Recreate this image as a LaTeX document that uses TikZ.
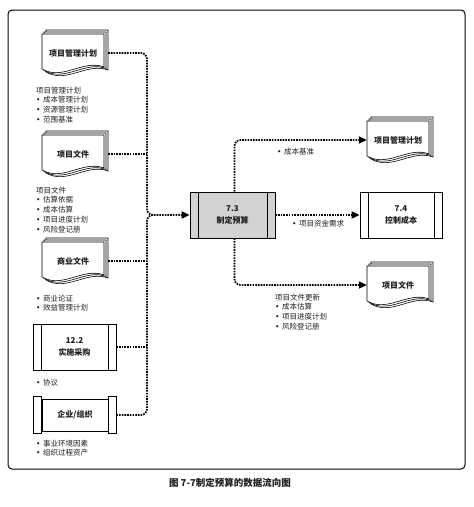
\documentclass[tikz,border=0pt]{standalone}
\usepackage{fontspec}
\setmainfont{Noto Sans CJK SC}
\newfontfamily\bulletfont{DejaVu Sans}
\newcommand\bul{{\bulletfont •}\hspace{2.5pt}}
\usetikzlibrary{arrows.meta}
\definecolor{procgray}{RGB}{210,210,210}
\definecolor{txt}{RGB}{30,30,30}
\tikzset{
  flow/.style={line width=1.7pt, dash pattern=on 1.6pt off 1.1pt, rounded corners=6pt},
  tipped/.style={-{Triangle[length=8pt,width=7pt]}},
  lbl/.style={font=\fontsize{8}{12}\selectfont\bfseries, align=center, text=txt},
  lst/.style={font=\fontsize{7.5}{9.8}\selectfont, align=left, anchor=north west, inner sep=0pt, text=txt},
  sheet/.style={draw, line width=0.6pt, fill=white},
  sidelines/.style={path picture={
      \draw[line width=0.6pt] ([xshift=8pt]path picture bounding box.north west) -- ([xshift=8pt]path picture bounding box.south west);
      \draw[line width=0.6pt] ([xshift=-8pt]path picture bounding box.north east) -- ([xshift=-8pt]path picture bounding box.south east);}},
  procbox/.style={lbl, draw, line width=0.7pt, fill=white, inner sep=0pt, sidelines},
}
\newcommand\docstack[4]{%
  \begin{scope}[shift={(#2,#3)}]
    \foreach \k in {2,1,0}{
      \draw[sheet] ({-31+2*\k},{-19-2*\k}) -- ({31+2*\k},{-19-2*\k}) -- ({31+2*\k},{14+1.5*\k})
        .. controls ({10+2*\k},{6+1.5*\k}) and ({-10+2*\k},{28+1.5*\k}) .. ({-31+2*\k},{16+1.5*\k}) -- cycle;
    }
  \end{scope}
  \node[lbl, minimum width=62pt, inner sep=0pt] (#1) at (#2,#3) {#4};
}
\begin{document}
\begin{tikzpicture}[x=1pt, y=-1pt]
  \useasboundingbox (0,0) rectangle (474,507);
  \draw[line width=1pt, rounded corners=4pt] (8,10) rectangle (465,469);

  % left inputs
  \docstack{d1}{73}{53}{项目管理计划}
  \docstack{d2}{73}{154}{项目文件}
  \docstack{d3}{73}{261}{商业文件}
  \node[procbox, minimum width=83pt, minimum height=46pt] (p122) at (74.5,347) {12.2\\实施采购};
  \node[procbox, minimum width=82pt, minimum height=32pt] (org) at (75,415) {企业/组织};
  \draw[line width=0.7pt, fill=white] ([yshift=2pt]org.north west) rectangle ([xshift=8pt,yshift=-2pt]org.south west);
  \draw[line width=0.7pt, fill=white] ([yshift=2pt]org.north east) rectangle ([xshift=-8pt,yshift=-2pt]org.south east);

  \node[lst] (l1) at (36,86.5) {项目管理计划\\\bul 成本管理计划\\\bul 资源管理计划\\\bul 范围基准};
  \node[lst] (l2) at (36,186.5) {项目文件\\\bul 估算依据\\\bul 成本估算\\\bul 项目进度计划\\\bul 风险登记册};
  \node[lst] (l3) at (36,294.5) {\bul 商业论证\\\bul 效益管理计划};
  \node[lst] (l4) at (36,378.5) {\bul 协议};
  \node[lst] (l5) at (36,439.5) {\bul 事业环境因素\\\bul 组织过程资产};

  % central process
  \node[procbox, fill=procgray, minimum width=85pt, minimum height=46pt] (p73) at (232.5,215) {7.3\\制定预算};
  \node[procbox, minimum width=82pt, minimum height=46pt] (p74) at (401,215) {7.4\\控制成本};

  % right outputs
  \docstack{r1}{398}{140}{项目管理计划}
  \docstack{r2}{398}{285}{项目文件}

  \node[lst, anchor=west] (o1) at (277,152) {\bul 成本基准};
  \node[lst, anchor=west] (o2) at (292,224) {\bul 项目资金需求};
  \node[lst] (o3) at (275,293.5) {项目文件更新\\\bul 成本估算\\\bul 项目进度计划\\\bul 风险登记册};

  % connectors
  \coordinate (bus) at (147,215);
  \draw[flow, tipped] ([xshift=4pt]d1.east) -| (bus) -- (p73.west);
  \draw[flow] ([xshift=4pt]d2.east) -- (d2.east -| bus);
  \draw[flow] ([xshift=4pt]d3.east) -- (d3.east -| bus);
  \draw[flow] (p122.east) -- (p122.east -| bus);
  \draw[flow] (org.east) -| (bus) -- ++(6,0);

  \draw[flow, tipped] ([xshift=2pt]p73.north) |- (r1.west);
  \draw[flow, tipped] (p73.east) -- (p74.west);
  \draw[flow, tipped] ([xshift=2pt]p73.south) |- (r2.west);

  \node[font=\fontsize{9.5}{11}\selectfont\bfseries, text=txt] (cap) at (230,483) {图 7-7制定预算的数据流向图};
\end{tikzpicture}
\end{document}
